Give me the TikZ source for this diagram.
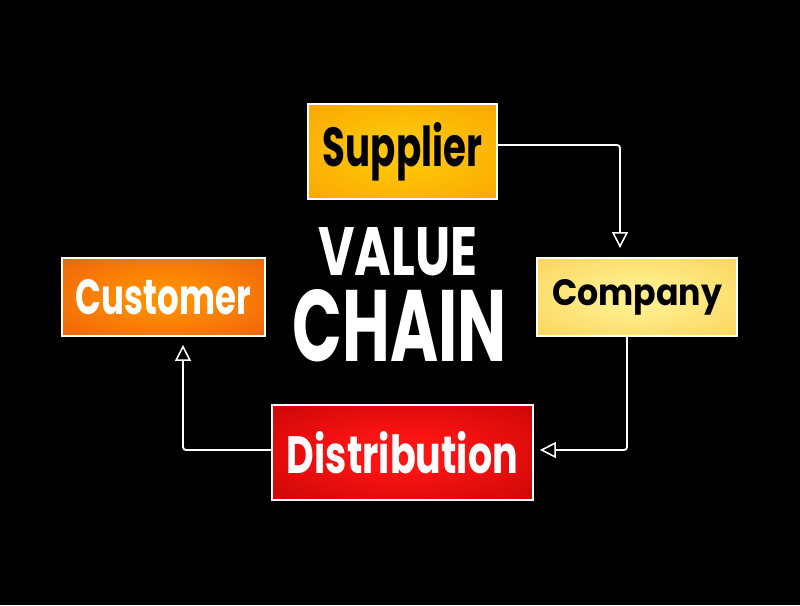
\documentclass[tikz,border=0pt]{standalone}
\usepackage{fontspec}
\setmainfont{Poppins}
\usepackage{graphicx}
\usetikzlibrary{arrows.meta}
\definecolor{supin}{RGB}{255,198,8}
\definecolor{supout}{RGB}{246,150,0}
\definecolor{comin}{RGB}{255,238,140}
\definecolor{comout}{RGB}{246,200,70}
\definecolor{cusin}{RGB}{255,142,0}
\definecolor{cusout}{RGB}{230,78,22}
\definecolor{disin}{RGB}{255,20,20}
\definecolor{disout}{RGB}{178,0,0}
\pgfdeclareradialshading{supshade}{\pgfpoint{0bp}{0bp}}{color(0bp)=(supin); color(8bp)=(supin); color(50bp)=(supout); color(72bp)=(supout)}
\pgfdeclareradialshading{comshade}{\pgfpoint{0bp}{0bp}}{color(0bp)=(comin); color(8bp)=(comin); color(50bp)=(comout); color(72bp)=(comout)}
\pgfdeclareradialshading{cusshade}{\pgfpoint{0bp}{0bp}}{color(0bp)=(cusin); color(8bp)=(cusin); color(50bp)=(cusout); color(72bp)=(cusout)}
\pgfdeclareradialshading{disshade}{\pgfpoint{0bp}{0bp}}{color(0bp)=(disin); color(8bp)=(disin); color(50bp)=(disout); color(72bp)=(disout)}
\tikzset{
  box/.style={draw=white, line width=1.8pt, inner sep=0pt, rectangle},
  conn/.style={draw=white, line width=1.8pt, rounded corners=3pt,
    -{Triangle[open, length=16pt, width=16pt, line width=1.6pt]}},
  bigtext/.style={text=white, inner sep=0pt}
}
\begin{document}
\begin{tikzpicture}[x=1pt, y=-1pt]
\fill[black] (0,0) rectangle (800,605);
\useasboundingbox (0,0) rectangle (800,605);

\node[box, shading=supshade, minimum width=189pt, minimum height=95pt, text=black]
  (sup) at (402.5,151.5) {\resizebox{159pt}{44pt}{\bfseries Supplier}};
\node[box, shading=comshade, minimum width=200pt, minimum height=78pt, text=black]
  (com) at (637,297) {\resizebox{170pt}{26pt}{\bfseries Company}};
\node[box, shading=cusshade, minimum width=203pt, minimum height=78pt, text=white]
  (cus) at (163.5,297) {\resizebox{175pt}{35pt}{\bfseries Customer}};
\node[box, shading=disshade, minimum width=261pt, minimum height=95pt, text=white]
  (dis) at (402.5,452.5) {\resizebox{231pt}{42pt}{\bfseries Distribution}};

\node[bigtext] (val) at (398,252) {\resizebox{159pt}{48pt}{\bfseries VALUE}};
\node[bigtext] (chn) at (400,326) {\resizebox{214pt}{72pt}{\bfseries CHAIN}};

\draw[conn, shorten >=9pt] ([yshift=6.5pt]sup.east) -| ([xshift=-17pt]com.north);
\draw[conn, shorten >=6pt] ([xshift=-10pt]com.south) |- ([yshift=2.5pt]dis.east);
\draw[conn, shorten >=8pt] ([yshift=2.5pt]dis.west) -| ([xshift=19.5pt]cus.south);
\end{tikzpicture}
\end{document}
